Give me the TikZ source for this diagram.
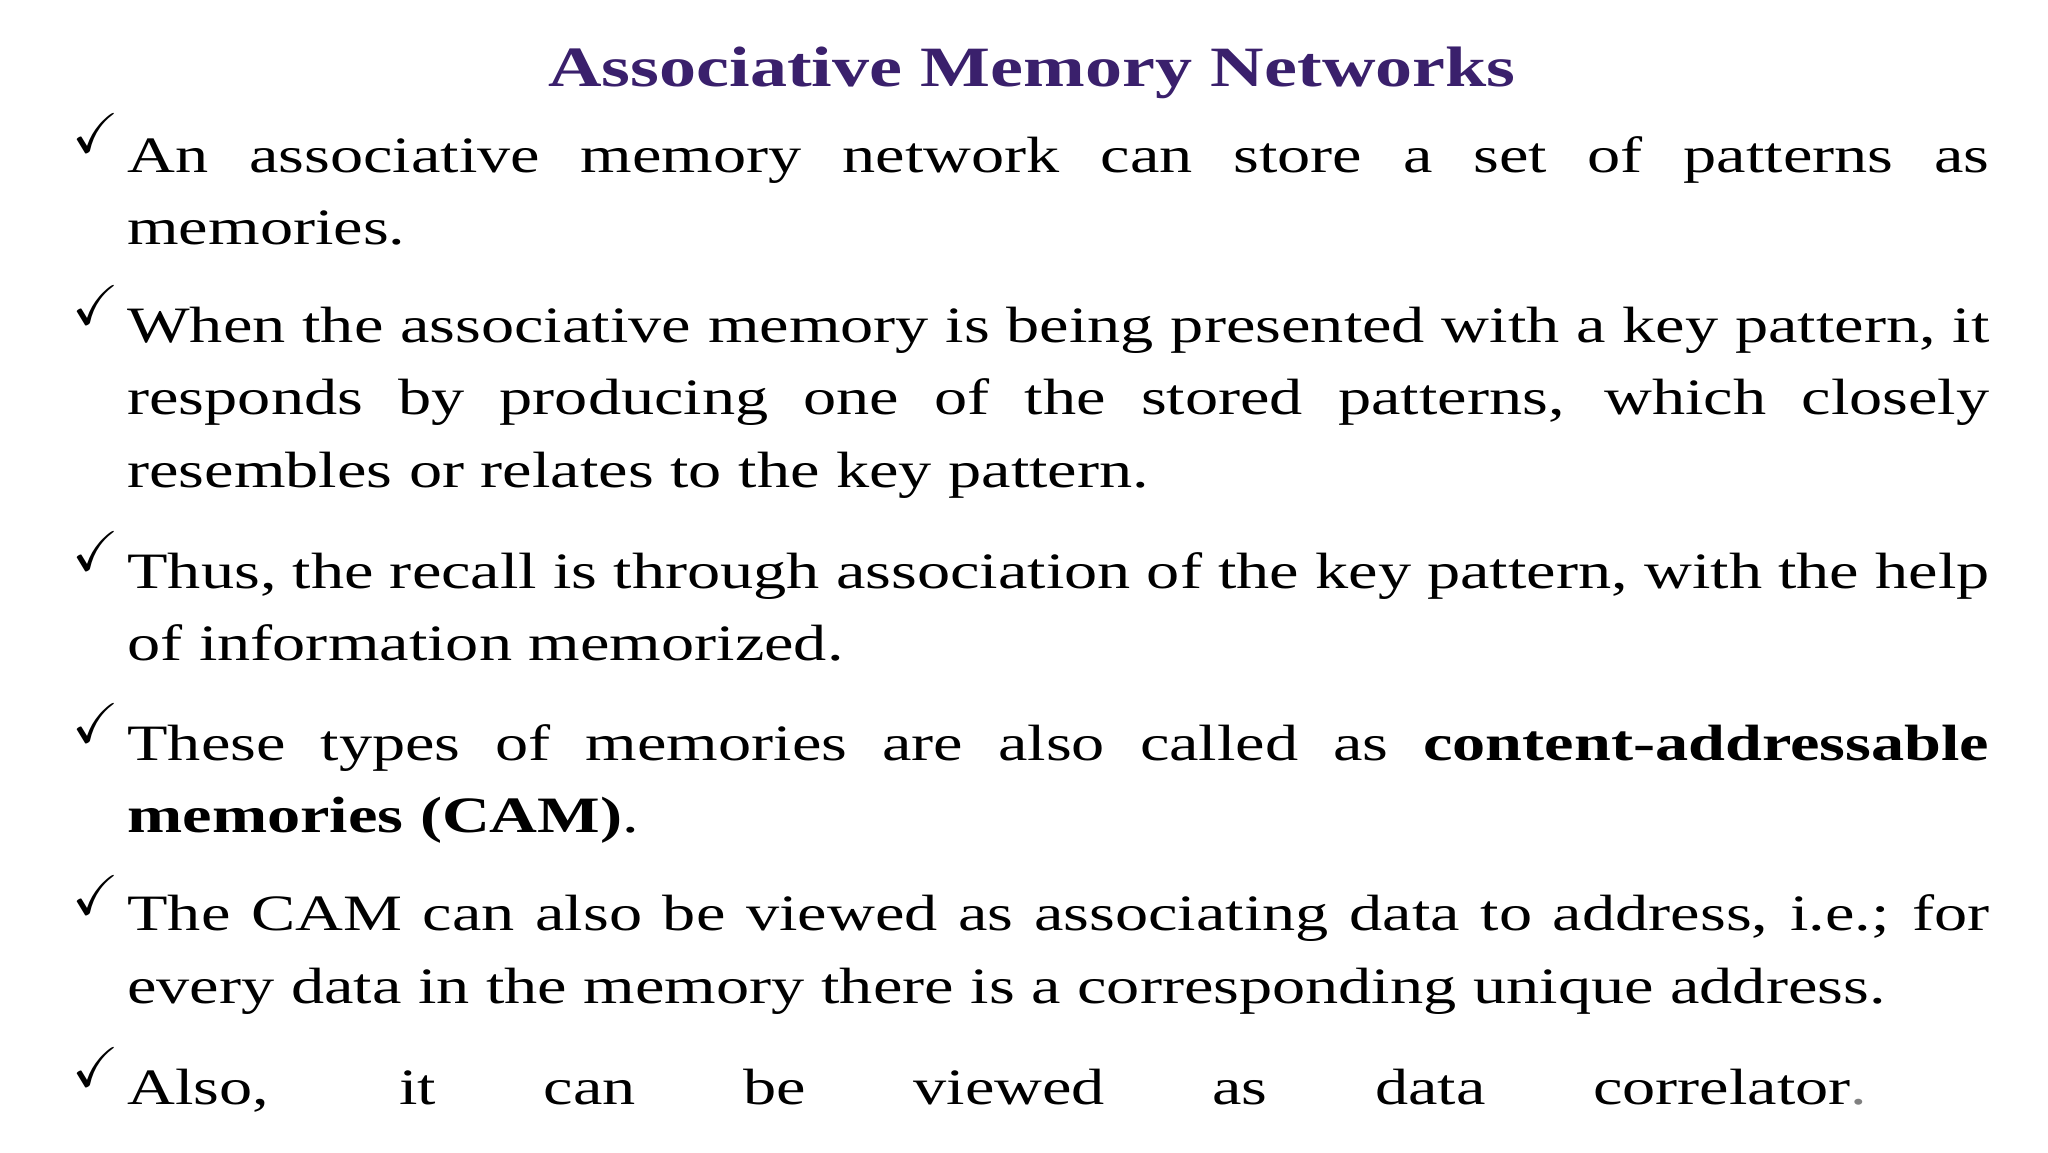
\documentclass[tikz,border=0pt]{standalone}
\usepackage{amssymb}
\usepackage{bm}
\usepackage{fontspec}
\setmainfont{Liberation Serif}[FakeStretch=1.3]
\definecolor{ttl}{RGB}{58,32,108}
\begin{document}
\begin{tikzpicture}[x=1pt,y=-1pt,
  ln/.style={anchor=mid west,inner sep=0pt,font=\fontsize{25.5}{30}\selectfont},
  ck/.style={anchor=mid,inner sep=0pt,font=\fontsize{28}{30}\selectfont}]
\useasboundingbox[fill=white] (0,0) rectangle (1024,576);
\node[anchor=mid,font=\fontsize{28.5}{34}\selectfont\bfseries,text=ttl] (title) at (516,41) {Associative Memory Networks};
\newcommand{\J}[1]{\makebox[931pt][s]{#1}}
\foreach \y/\n in {74/a,160/b,283/c,369/d,455/e,541/f}
  \node[ck] (c\n) at (48,\y) {$\bm{\checkmark}$};
\node[ln] (l1) at (63.5,84) {\J{An associative memory network can store a set of patterns as}};
\node[ln] (l2) at (63.5,120) {memories.};
\node[ln] (l3) at (63.5,169) {\J{When the associative memory is being presented with a key pattern, it}};
\node[ln] (l4) at (63.5,205) {\J{responds by producing one of the stored patterns, which closely}};
\node[ln] (l5) at (63.5,241.5) {resembles or relates to the key pattern.};
\node[ln] (l6) at (63.5,292) {\J{Thus, the recall is through association of the key pattern, with the help}};
\node[ln] (l7) at (63.5,328) {of information memorized.};
\node[ln] (l8) at (63.5,378) {\J{These types of memories are also called as \textbf{content-addressable}}};
\node[ln] (l9) at (63.5,414) {\textbf{memories (CAM)}.};
\node[ln] (l10) at (63.5,463) {\J{The CAM can also be viewed as associating data to address, i.e.; for}};
\node[ln] (l11) at (63.5,499.5) {every data in the memory there is a corresponding unique address.};
\node[ln] (l12) at (63.5,550) {\makebox[870pt][s]{Also, it can be viewed as data correlator\textcolor{gray}{.}}};
\end{tikzpicture}
\end{document}
